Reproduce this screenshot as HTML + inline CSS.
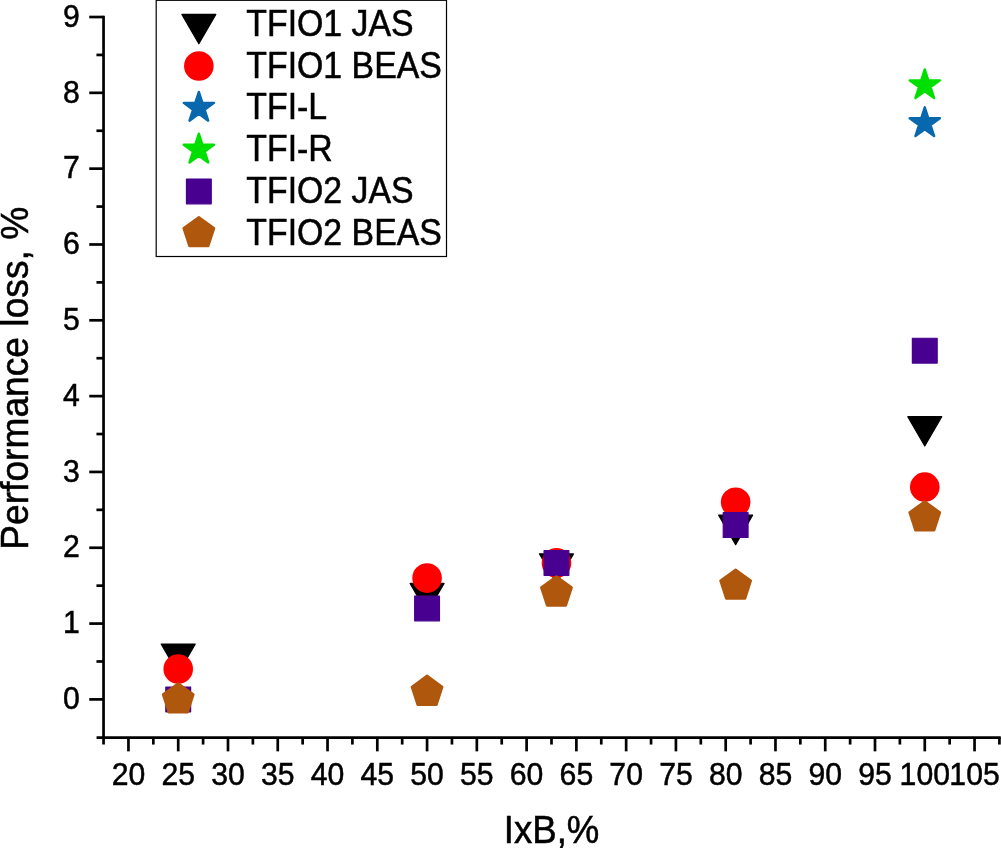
<!DOCTYPE html>
<html><head><meta charset="utf-8"><title>Performance loss vs IxB</title>
<style>html,body{margin:0;padding:0;background:#fff;}svg{display:block;}text{font-family:"Liberation Sans",sans-serif;fill:#000;stroke:#000;stroke-width:0.5px;}</style></head><body>
<svg width="1001" height="848" viewBox="0 0 1001 848">
<rect width="1001" height="848" fill="#fff"/>
<g stroke="#000" stroke-width="2.7" fill="none" stroke-linecap="butt">
<line x1="103.55" y1="15.67" x2="103.55" y2="744.55"/>
<line x1="96.55" y1="737.55" x2="1000.77" y2="737.55"/>
<line x1="89.25" y1="699.40" x2="103.55" y2="699.40"/>
<line x1="96.45" y1="661.49" x2="103.55" y2="661.49"/>
<line x1="89.25" y1="623.58" x2="103.55" y2="623.58"/>
<line x1="96.45" y1="585.67" x2="103.55" y2="585.67"/>
<line x1="89.25" y1="547.76" x2="103.55" y2="547.76"/>
<line x1="96.45" y1="509.85" x2="103.55" y2="509.85"/>
<line x1="89.25" y1="471.94" x2="103.55" y2="471.94"/>
<line x1="96.45" y1="434.03" x2="103.55" y2="434.03"/>
<line x1="89.25" y1="396.12" x2="103.55" y2="396.12"/>
<line x1="96.45" y1="358.21" x2="103.55" y2="358.21"/>
<line x1="89.25" y1="320.30" x2="103.55" y2="320.30"/>
<line x1="96.45" y1="282.39" x2="103.55" y2="282.39"/>
<line x1="89.25" y1="244.48" x2="103.55" y2="244.48"/>
<line x1="96.45" y1="206.57" x2="103.55" y2="206.57"/>
<line x1="89.25" y1="168.66" x2="103.55" y2="168.66"/>
<line x1="96.45" y1="130.75" x2="103.55" y2="130.75"/>
<line x1="89.25" y1="92.84" x2="103.55" y2="92.84"/>
<line x1="96.45" y1="54.93" x2="103.55" y2="54.93"/>
<line x1="89.25" y1="17.02" x2="103.55" y2="17.02"/>
<line x1="128.45" y1="737.55" x2="128.45" y2="751.35"/>
<line x1="153.33" y1="737.55" x2="153.33" y2="744.55"/>
<line x1="178.22" y1="737.55" x2="178.22" y2="751.35"/>
<line x1="203.10" y1="737.55" x2="203.10" y2="744.55"/>
<line x1="227.99" y1="737.55" x2="227.99" y2="751.35"/>
<line x1="252.88" y1="737.55" x2="252.88" y2="744.55"/>
<line x1="277.76" y1="737.55" x2="277.76" y2="751.35"/>
<line x1="302.64" y1="737.55" x2="302.64" y2="744.55"/>
<line x1="327.53" y1="737.55" x2="327.53" y2="751.35"/>
<line x1="352.41" y1="737.55" x2="352.41" y2="744.55"/>
<line x1="377.30" y1="737.55" x2="377.30" y2="751.35"/>
<line x1="402.19" y1="737.55" x2="402.19" y2="744.55"/>
<line x1="427.07" y1="737.55" x2="427.07" y2="751.35"/>
<line x1="451.95" y1="737.55" x2="451.95" y2="744.55"/>
<line x1="476.84" y1="737.55" x2="476.84" y2="751.35"/>
<line x1="501.73" y1="737.55" x2="501.73" y2="744.55"/>
<line x1="526.61" y1="737.55" x2="526.61" y2="751.35"/>
<line x1="551.50" y1="737.55" x2="551.50" y2="744.55"/>
<line x1="576.38" y1="737.55" x2="576.38" y2="751.35"/>
<line x1="601.27" y1="737.55" x2="601.27" y2="744.55"/>
<line x1="626.15" y1="737.55" x2="626.15" y2="751.35"/>
<line x1="651.04" y1="737.55" x2="651.04" y2="744.55"/>
<line x1="675.92" y1="737.55" x2="675.92" y2="751.35"/>
<line x1="700.81" y1="737.55" x2="700.81" y2="744.55"/>
<line x1="725.69" y1="737.55" x2="725.69" y2="751.35"/>
<line x1="750.58" y1="737.55" x2="750.58" y2="744.55"/>
<line x1="775.46" y1="737.55" x2="775.46" y2="751.35"/>
<line x1="800.35" y1="737.55" x2="800.35" y2="744.55"/>
<line x1="825.23" y1="737.55" x2="825.23" y2="751.35"/>
<line x1="850.12" y1="737.55" x2="850.12" y2="744.55"/>
<line x1="875.00" y1="737.55" x2="875.00" y2="751.35"/>
<line x1="899.88" y1="737.55" x2="899.88" y2="744.55"/>
<line x1="924.77" y1="737.55" x2="924.77" y2="751.35"/>
<line x1="949.65" y1="737.55" x2="949.65" y2="744.55"/>
<line x1="974.54" y1="737.55" x2="974.54" y2="751.35"/>
<line x1="999.42" y1="737.55" x2="999.42" y2="744.55"/>
</g>
<text transform="translate(79.80,709.10) scale(1,1.065)" font-size="30.2px" text-anchor="end">0</text>
<text transform="translate(79.80,633.28) scale(1,1.065)" font-size="30.2px" text-anchor="end">1</text>
<text transform="translate(79.80,557.46) scale(1,1.065)" font-size="30.2px" text-anchor="end">2</text>
<text transform="translate(79.80,481.64) scale(1,1.065)" font-size="30.2px" text-anchor="end">3</text>
<text transform="translate(79.80,405.82) scale(1,1.065)" font-size="30.2px" text-anchor="end">4</text>
<text transform="translate(79.80,330.00) scale(1,1.065)" font-size="30.2px" text-anchor="end">5</text>
<text transform="translate(79.80,254.18) scale(1,1.065)" font-size="30.2px" text-anchor="end">6</text>
<text transform="translate(79.80,178.36) scale(1,1.065)" font-size="30.2px" text-anchor="end">7</text>
<text transform="translate(79.80,102.54) scale(1,1.065)" font-size="30.2px" text-anchor="end">8</text>
<text transform="translate(79.80,26.72) scale(1,1.065)" font-size="30.2px" text-anchor="end">9</text>
<text transform="translate(128.45,785.10) scale(1,1.065)" font-size="30.2px" text-anchor="middle">20</text>
<text transform="translate(178.22,785.10) scale(1,1.065)" font-size="30.2px" text-anchor="middle">25</text>
<text transform="translate(227.99,785.10) scale(1,1.065)" font-size="30.2px" text-anchor="middle">30</text>
<text transform="translate(277.76,785.10) scale(1,1.065)" font-size="30.2px" text-anchor="middle">35</text>
<text transform="translate(327.53,785.10) scale(1,1.065)" font-size="30.2px" text-anchor="middle">40</text>
<text transform="translate(377.30,785.10) scale(1,1.065)" font-size="30.2px" text-anchor="middle">45</text>
<text transform="translate(427.07,785.10) scale(1,1.065)" font-size="30.2px" text-anchor="middle">50</text>
<text transform="translate(476.84,785.10) scale(1,1.065)" font-size="30.2px" text-anchor="middle">55</text>
<text transform="translate(526.61,785.10) scale(1,1.065)" font-size="30.2px" text-anchor="middle">60</text>
<text transform="translate(576.38,785.10) scale(1,1.065)" font-size="30.2px" text-anchor="middle">65</text>
<text transform="translate(626.15,785.10) scale(1,1.065)" font-size="30.2px" text-anchor="middle">70</text>
<text transform="translate(675.92,785.10) scale(1,1.065)" font-size="30.2px" text-anchor="middle">75</text>
<text transform="translate(725.69,785.10) scale(1,1.065)" font-size="30.2px" text-anchor="middle">80</text>
<text transform="translate(775.46,785.10) scale(1,1.065)" font-size="30.2px" text-anchor="middle">85</text>
<text transform="translate(825.23,785.10) scale(1,1.065)" font-size="30.2px" text-anchor="middle">90</text>
<text transform="translate(875.00,785.10) scale(1,1.065)" font-size="30.2px" text-anchor="middle">95</text>
<text transform="translate(924.77,785.10) scale(1,1.065)" font-size="30.2px" text-anchor="middle">100</text>
<text transform="translate(974.54,785.10) scale(1,1.065)" font-size="30.2px" text-anchor="middle">105</text>
<text transform="translate(551.60,843.10) scale(1,1.065)" font-size="36.6px" text-anchor="middle">IxB,%</text>
<text transform="translate(27.80,378.30) rotate(-90) scale(1,1.065)" font-size="37.2px" text-anchor="middle">Performance loss, %</text>
<polygon points="161.25,644.11 195.19,644.11 178.22,673.51" fill="#000" stroke="#000" stroke-width="1.2" stroke-linejoin="round"/>
<polygon points="410.10,583.45 444.04,583.45 427.07,612.85" fill="#000" stroke="#000" stroke-width="1.2" stroke-linejoin="round"/>
<polygon points="539.50,553.88 573.45,553.88 556.47,583.28" fill="#000" stroke="#000" stroke-width="1.2" stroke-linejoin="round"/>
<polygon points="718.67,515.21 752.62,515.21 735.64,544.61" fill="#000" stroke="#000" stroke-width="1.2" stroke-linejoin="round"/>
<polygon points="907.80,416.65 941.74,416.65 924.77,446.05" fill="#000" stroke="#000" stroke-width="1.2" stroke-linejoin="round"/>
<circle cx="178.22" cy="669.07" r="14.8" fill="#ff0000"/>
<circle cx="427.07" cy="578.09" r="14.8" fill="#ff0000"/>
<circle cx="556.47" cy="562.92" r="14.8" fill="#ff0000"/>
<circle cx="735.64" cy="502.27" r="14.8" fill="#ff0000"/>
<circle cx="924.77" cy="487.10" r="14.8" fill="#ff0000"/>
<polygon points="924.77,107.27 928.34,118.25 939.89,118.25 930.55,125.04 934.12,136.03 924.77,129.24 915.42,136.03 918.99,125.04 909.65,118.25 921.20,118.25" fill="#0868ae" stroke="#0868ae" stroke-width="2.4" stroke-linejoin="round"/>
<polygon points="924.77,69.36 928.34,80.34 939.89,80.34 930.55,87.13 934.12,98.12 924.77,91.33 915.42,98.12 918.99,87.13 909.65,80.34 921.20,80.34" fill="#00e000" stroke="#00e000" stroke-width="2.4" stroke-linejoin="round"/>
<rect x="165.82" y="687.00" width="24.8" height="24.8" fill="#47008f" stroke="#47008f" stroke-width="1.2" stroke-linejoin="round"/>
<rect x="414.67" y="596.02" width="24.8" height="24.8" fill="#47008f" stroke="#47008f" stroke-width="1.2" stroke-linejoin="round"/>
<rect x="544.07" y="550.52" width="24.8" height="24.8" fill="#47008f" stroke="#47008f" stroke-width="1.2" stroke-linejoin="round"/>
<rect x="723.24" y="512.61" width="24.8" height="24.8" fill="#47008f" stroke="#47008f" stroke-width="1.2" stroke-linejoin="round"/>
<rect x="912.37" y="338.23" width="24.8" height="24.8" fill="#47008f" stroke="#47008f" stroke-width="1.2" stroke-linejoin="round"/>
<polygon points="178.22,683.40 193.44,694.46 187.62,712.34 168.82,712.34 163.00,694.46" fill="#af570d" stroke="#af570d" stroke-width="2.4" stroke-linejoin="round"/>
<polygon points="427.07,675.82 442.29,686.87 436.47,704.76 417.67,704.76 411.85,686.87" fill="#af570d" stroke="#af570d" stroke-width="2.4" stroke-linejoin="round"/>
<polygon points="556.47,576.49 571.69,587.55 565.88,605.44 547.07,605.44 541.26,587.55" fill="#af570d" stroke="#af570d" stroke-width="2.4" stroke-linejoin="round"/>
<polygon points="735.64,569.67 750.86,580.73 745.05,598.61 726.24,598.61 720.43,580.73" fill="#af570d" stroke="#af570d" stroke-width="2.4" stroke-linejoin="round"/>
<polygon points="924.77,501.43 939.99,512.49 934.17,530.38 915.37,530.38 909.55,512.49" fill="#af570d" stroke="#af570d" stroke-width="2.4" stroke-linejoin="round"/>
<rect x="156.2" y="0.3" width="290.3" height="256.2" fill="#fff" stroke="#000" stroke-width="1.2"/>
<polygon points="181.88,14.40 215.82,14.40 198.85,43.80" fill="#000" stroke="#000" stroke-width="1.2" stroke-linejoin="round"/>
<circle cx="198.85" cy="66.00" r="14.8" fill="#ff0000"/>
<polygon points="198.85,91.90 202.42,102.89 213.97,102.89 204.63,109.68 208.20,120.66 198.85,113.87 189.50,120.66 193.07,109.68 183.73,102.89 195.28,102.89" fill="#0868ae" stroke="#0868ae" stroke-width="2.4" stroke-linejoin="round"/>
<polygon points="198.85,133.70 202.42,144.69 213.97,144.69 204.63,151.48 208.20,162.46 198.85,155.67 189.50,162.46 193.07,151.48 183.73,144.69 195.28,144.69" fill="#00e000" stroke="#00e000" stroke-width="2.4" stroke-linejoin="round"/>
<rect x="186.45" y="179.00" width="24.8" height="24.8" fill="#47008f" stroke="#47008f" stroke-width="1.2" stroke-linejoin="round"/>
<polygon points="198.85,217.20 214.07,228.26 208.25,246.14 189.45,246.14 183.63,228.26" fill="#af570d" stroke="#af570d" stroke-width="2.4" stroke-linejoin="round"/>
<text transform="translate(246.30,35.80) scale(1,1.065)" font-size="33.85px" text-anchor="start">TFIO1 JAS</text>
<text transform="translate(246.30,77.60) scale(1,1.065)" font-size="33.85px" text-anchor="start">TFIO1 BEAS</text>
<text transform="translate(246.30,119.40) scale(1,1.065)" font-size="33.85px" text-anchor="start">TFI-L</text>
<text transform="translate(246.30,161.20) scale(1,1.065)" font-size="33.85px" text-anchor="start">TFI-R</text>
<text transform="translate(246.30,203.00) scale(1,1.065)" font-size="33.85px" text-anchor="start">TFIO2 JAS</text>
<text transform="translate(246.30,244.80) scale(1,1.065)" font-size="33.85px" text-anchor="start">TFIO2 BEAS</text>
</svg></body></html>
